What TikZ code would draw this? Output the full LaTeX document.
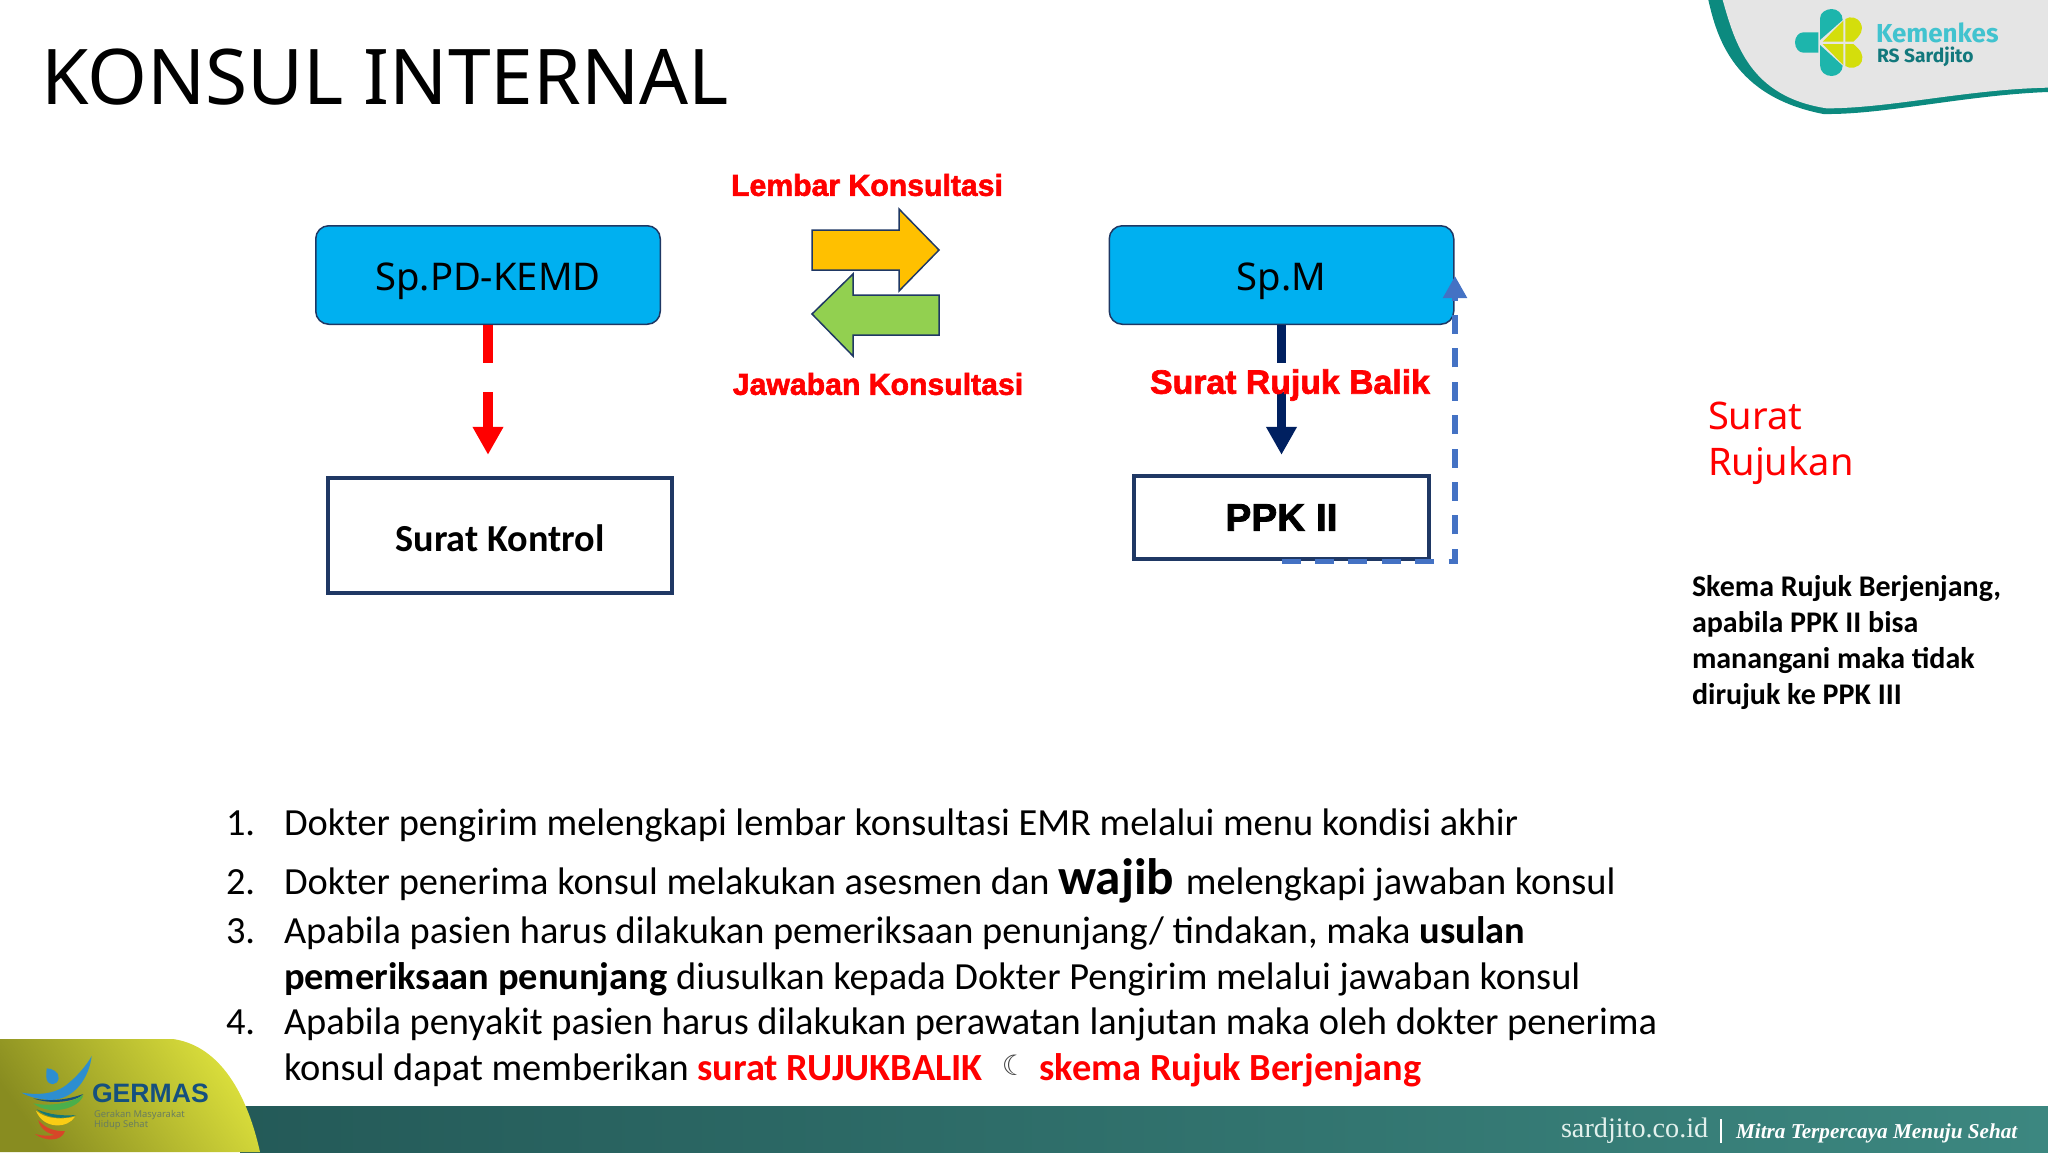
\documentclass[tikz,border=0pt]{standalone}
\usepackage{fontspec}
\usetikzlibrary{arrows.meta}
\setmainfont{Carlito}
\newfontfamily\notosans{Noto Sans}
\newfontfamily\arialbold[BoldFeatures={FakeBold=2}]{Liberation Sans}
\newfontfamily\arialplain{Liberation Sans}
\newfontfamily\timesf{Liberation Serif}
\newfontfamily\logofont{Fira Sans}
\newfontfamily\moonfont{DejaVu Sans}
\definecolor{navyline}{HTML}{1F3864}
\definecolor{boxblue}{HTML}{00B0F0}
\definecolor{arrownavy}{HTML}{002060}
\definecolor{dashblue}{HTML}{4472C4}
\definecolor{yellowarrow}{HTML}{FFC000}
\definecolor{greenarrow}{HTML}{92D050}
\definecolor{tealcurve}{HTML}{0C8A7F}
\definecolor{greylogo}{HTML}{E5E5E5}
\definecolor{petal}{HTML}{1DB5AC}
\definecolor{petalyellow}{HTML}{D4DE0C}
\definecolor{kemcyan}{HTML}{41C3CF}
\definecolor{kemdark}{HTML}{12787C}
\definecolor{germasblue}{HTML}{15507E}
\definecolor{footL}{RGB}{36,90,88}
\definecolor{footR}{RGB}{60,135,128}
\definecolor{panelL}{RGB}{136,140,32}
\definecolor{panelR}{RGB}{220,224,60}
\definecolor{gblue}{RGB}{45,142,208}
\definecolor{gdark}{RGB}{20,80,126}
\definecolor{ggreen}{RGB}{75,175,75}
\definecolor{gteal}{RGB}{20,120,120}
\definecolor{gyellow}{RGB}{250,205,20}
\definecolor{gred}{RGB}{215,70,40}
\definecolor{gsub}{RGB}{105,125,95}
\definecolor{webtxt}{RGB}{226,240,236}
\tikzset{
  txt/.style={inner sep=0pt,outer sep=0pt,anchor=base west,align=left},
  roundbox/.style={draw=navyline,line width=0.75pt,fill=boxblue,rounded corners=6.5pt,minimum width=172.25pt,minimum height=49.25pt,inner sep=0pt,
     text height=21pt,text depth=6pt,font=\notosans\fontsize{19.1}{23}\selectfont},
  plainbox/.style={draw=navyline,line width=2.2pt,fill=white,inner sep=0pt},
  redlabel/.style={inner sep=0pt,text=red,font=\arialbold\bfseries\fontsize{15.1}{18}\selectfont},
  downarrow/.style={line width=4.7pt,dash pattern=on 19pt off 14.5pt,-{Triangle[width=14.5pt,length=14pt,sep=0pt]}},
  swaparrow/.style={draw=navyline,line width=0.75pt,line join=miter},
  body/.style={txt,font=\fontsize{19.2}{23}\selectfont},
}
\begin{document}
\begin{tikzpicture}[x=0.5pt,y=-0.5pt]
\useasboundingbox (0,0) rectangle (2048,1152);
% top-right corner
\begin{scope}[shift={(1650,0)},scale=1/3]
\fill[tealcurve] (175,0) .. controls (200,110) and (250,290) .. (520,342) .. controls (700,345) and (950,285) .. (1194,276) -- (1194,0) -- cycle;
\fill[greylogo] (218,0) .. controls (255,130) and (300,290) .. (530,325) .. controls (720,325) and (950,268) .. (1194,263) -- (1194,0) -- cycle;
\fill[petal] (505,97) -- (460,97) .. controls (445,97) and (435,112) .. (435,127) .. controls (435,145) and (447,158) .. (460,158) -- (505,158) -- cycle;
\fill[petal] (510,120) -- (510,55) .. controls (510,38) and (528,27) .. (545,27) .. controls (562,27) and (578,40) .. (578,60) -- cycle;
\fill[petal] (510,135) -- (578,197) .. controls (578,215) and (562,228) .. (545,228) .. controls (525,228) and (510,215) .. (510,195) -- cycle;
\fill[petalyellow] (518,125) -- (580,62) -- (580,125) -- cycle;
\fill[petalyellow] (586,57) .. controls (600,48) and (622,50) .. (632,70) .. controls (642,90) and (632,105) .. (610,125) -- (586,125) -- cycle;
\fill[petalyellow] (518,132) -- (580,132) -- (580,195) -- cycle;
\fill[petalyellow] (586,132) -- (610,132) .. controls (632,150) and (642,165) .. (635,185) .. controls (625,205) and (600,208) .. (586,198) -- cycle;
\end{scope}
\node[txt,text=kemcyan,font=\logofont\bfseries\fontsize{13}{14}\selectfont] (kem) at (1876,42) {Kemenkes};
\node[txt,text=kemdark,font=\logofont\bfseries\fontsize{9.6}{12}\selectfont] (rs) at (1877,62) {RS Sardjito};
% footer
\shade[left color=footL,right color=footR] (240,1106) rectangle (2048,1152);
\shade[shading=axis,left color=panelL,right color=panelR,shading angle=125]
  (0,1039) -- (173,1039) .. controls (215,1045) and (245,1085) .. (260,1152) -- (0,1152) -- cycle;
\begin{scope}[shift={(0,1020)},scale=1/3]
\fill[gblue] (140,145) .. controls (155,145) and (178,155) .. (176,175) .. controls (172,198) and (145,198) .. (140,178) .. controls (137,165) and (140,155) .. (140,145) -- cycle;
\fill[gblue] (275,108) .. controls (268,170) and (225,240) .. (150,240) .. controls (115,238) and (85,230) .. (65,218) .. controls (110,225) and (165,225) .. (205,190) .. controls (235,165) and (260,135) .. (275,108) -- cycle;
\fill[gdark] (100,235) .. controls (150,245) and (200,240) .. (250,222) .. controls (230,245) and (150,255) .. (100,235) -- cycle;
\fill[ggreen] (100,250) .. controls (150,260) and (210,250) .. (250,225) .. controls (240,265) and (150,290) .. (100,250) -- cycle;
\fill[gyellow] (108,272) .. controls (140,300) and (190,298) .. (225,290) .. controls (205,325) and (130,330) .. (108,272) -- cycle;
\fill[gteal] (110,268) .. controls (150,285) and (190,288) .. (228,285) .. controls (190,300) and (140,295) .. (110,268) -- cycle;
\fill[gred] (115,300) .. controls (135,325) and (165,335) .. (195,333) .. controls (185,365) and (135,365) .. (105,342) .. controls (125,348) and (150,348) .. (165,345) .. controls (140,340) and (120,325) .. (115,300) -- cycle;
\end{scope}
\node[txt,text=germasblue,font=\arialplain\bfseries\fontsize{13.3}{16}\selectfont] (germas) at (92,1102) {GERMAS};
\node[txt,text=gsub,font=\notosans\fontsize{4.7}{5}\selectfont,align=left] (ger2) at (94,1127) {Gerakan Masyarakat\\Hidup Sehat};
\node[txt,text=webtxt,font=\timesf\fontsize{14.1}{16}\selectfont] (web) at (1561,1137) {sardjito.co.id};
\draw[white,line width=0.6pt] (1721,1119) -- (1721,1143);
\node[txt,text=white,font=\timesf\bfseries\itshape\fontsize{10.6}{13}\selectfont] (motto) at (1736,1138) {Mitra Terpercaya Menuju Sehat};
% title
\node[txt,font=\notosans\fontsize{38.4}{44}\selectfont] (title) at (41,104) {KONSUL INTERNAL};
% boxes
\node[roundbox] (spd) at (488,275) {Sp.PD-KEMD};
\node[roundbox] (spm) at (1281.5,275) {Sp.M};
\node[plainbox,minimum width=172pt,minimum height=57.5pt] (skon) at (500,535.5) {};
\node[inner sep=0pt,font=\bfseries\fontsize{19.1}{23}\selectfont] (skont) at (500,538) {Surat Kontrol};
\node[plainbox,minimum width=147.5pt,minimum height=41.5pt,font=\arialbold\bfseries\fontsize{19.4}{24}\selectfont] (ppk) at (1281.5,517.5) {PPK II};
% connectors
\draw[red,downarrow,shorten >=10.5pt] (spd.south) -- (spd.south |- skon.north);
\draw[arrownavy,downarrow,shorten >=9.5pt] (spm.south) -- (spm.south |- ppk.north);
\coordinate (backtip) at (1455,276);
\draw[dashblue,line width=2.6pt,dash pattern=on 9.5pt off 7.2pt,-{Triangle[width=11.5pt,length=11pt,sep=0pt]}] (ppk.south) -| (backtip);
% swap arrows
\filldraw[swaparrow,fill=yellowarrow] (812,230) -- (899,230) -- (899,209) -- (939,250) -- (899,291) -- (899,270) -- (812,270) -- cycle;
\filldraw[swaparrow,fill=greenarrow] (812,314) -- (853,274) -- (853,295) -- (939,295) -- (939,335) -- (853,335) -- (853,356) -- cycle;
% labels
\node[redlabel] (lk) at (867,185) {Lembar Konsultasi};
\node[redlabel] (jk) at (878,384) {Jawaban Konsultasi};
\node[redlabel,font=\arialbold\bfseries\fontsize{16.9}{20}\selectfont] (srb) at (1290,385) {Surat Rujuk Balik};
% right texts
\node[txt,text=red,font=\notosans\fontsize{19}{23}\selectfont] (srj) at (1708,475) {Surat\\Rujukan};
\node[txt,font=\bfseries\fontsize{15}{17.9}\selectfont] (skema) at (1692,704) {Skema Rujuk Berjenjang,\\apabila PPK II bisa\\manangani maka tidak\\dirujuk ke PPK III};
% numbered list
\node[body] (n1) at (226,835) {1.};
\node[body] (t1) at (284,835) {Dokter pengirim melengkapi lembar konsultasi EMR melalui menu kondisi akhir};
\node[body] (n2) at (226,894) {2.};
\node[body] (t2) at (284,894) {Dokter penerima konsul melakukan asesmen dan {\bfseries\fontsize{25.6}{26}\selectfont wajib }melengkapi jawaban konsul};
\node[body] (n3) at (226,943) {3.};
\node[body] (t3) at (284,943) {Apabila pasien harus dilakukan pemeriksaan penunjang/ tindakan, maka {\bfseries usulan}};
\node[body] (t3b) at (284,989) {{\bfseries pemeriksaan penunjang} diusulkan kepada Dokter Pengirim melalui jawaban konsul};
\node[body] (n4) at (226,1034) {4.};
\node[body] (t4) at (284,1034) {Apabila penyakit pasien harus dilakukan perawatan lanjutan maka oleh dokter penerima};
\node[body] (t4b) at (284,1080) {konsul dapat memberikan {\bfseries\color{red}surat RUJUKBALIK}\hspace{9.6pt}\raisebox{2.5pt}{\moonfont\fontsize{14}{15}\selectfont\color{darkgray}☾}\hspace{6.1pt}{\bfseries\color{red}skema Rujuk Berjenjang}};
\end{tikzpicture}
\end{document}
